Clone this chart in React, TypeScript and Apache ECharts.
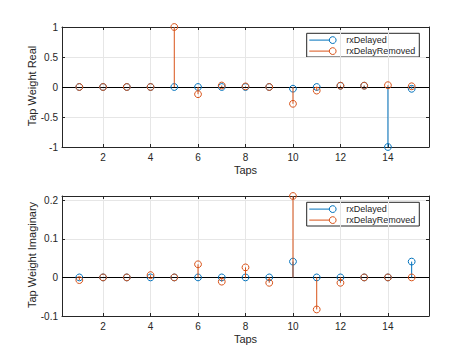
import React, { useEffect, useRef } from "react";
import * as echarts from "echarts";

const taps = [1, 2, 3, 4, 5, 6, 7, 8, 9, 10, 11, 12, 13, 14, 15];
const realDelayed = [0, 0, 0, 0, 0, 0, 0, 0, 0, -0.028, 0, 0.02, 0.022, -1, -0.03];
const realRemoved = [0, 0, 0, 0, 1, -0.12, 0.025, 0.01, 0, -0.28, -0.06, 0.022, 0.022, 0.03, 0.012];
const imagDelayed = [0, 0, 0, 0, 0, 0, 0, 0, 0, 0.041, 0, 0, 0, 0, 0.041];
const imagRemoved = [-0.007, 0, 0, 0.006, 0, 0.034, -0.011, 0.026, -0.014, 0.211, -0.083, -0.014, 0, 0, 0];

const xTicks = [2, 4, 6, 8, 10, 12, 14];
const yTicksReal = [-1, -0.5, 0, 0.5, 1];
const yTicksImag = [-0.1, 0, 0.1, 0.2];
const X_MIN = 0.27;
const X_MAX = 15.73;
const REAL_MIN = -1;
const REAL_MAX = 1;
const IMAG_MIN = -0.1;
const IMAG_MAX = 0.211;

const BLUE = "#0072BD";
const ORANGE = "#D95319";
const AX = "#262626";
const FONT = "Liberation Sans, Arial, sans-serif";

function stem(name: string, vals: number[], color: string, xi: number, yi: number, baseline: boolean) {
  const s: any = {
    type: "custom",
    name,
    xAxisIndex: xi,
    yAxisIndex: yi,
    data: taps.map((t, i) => [t, vals[i]]),
    encode: { x: 0, y: 1 },
    renderItem: (params: any, api: any) => {
      const x = api.value(0);
      const y = api.value(1);
      const p = api.coord([x, y]);
      const b = api.coord([x, 0]);
      return {
        type: "group",
        children: [
          {
            type: "line",
            shape: { x1: b[0], y1: b[1], x2: p[0], y2: p[1] },
            style: { stroke: color, lineWidth: 1 },
          },
          {
            type: "circle",
            shape: { cx: p[0], cy: p[1], r: 3.4 },
            style: { fill: "none", stroke: color, lineWidth: 1 },
          },
        ],
      };
    },
  };
  if (baseline) {
    s.markLine = {
      silent: true,
      symbol: "none",
      label: { show: false },
      lineStyle: { color: "#000", width: 1, type: "solid" },
      data: [{ yAxis: 0 }],
      z: 1,
    };
  }
  return s;
}

function xAxes(gridIndex: number) {
  return [
    {
      type: "value",
      gridIndex,
      position: "bottom",
      min: X_MIN,
      max: X_MAX,
      axisLine: { show: true, onZero: false, lineStyle: { color: AX, width: 1 } },
      axisTick: { show: true, inside: true, length: 3, customValues: xTicks, lineStyle: { color: AX } },
      axisLabel: { show: true, customValues: xTicks, color: AX, fontSize: 10, fontFamily: FONT, margin: 5 },
      splitLine: { show: true, lineStyle: { color: "#e6e6e6", width: 1 } },
      name: "Taps",
      nameLocation: "middle",
      nameGap: 17,
      nameTextStyle: { color: AX, fontSize: 11, fontFamily: FONT },
    },
    {
      type: "value",
      gridIndex,
      position: "top",
      min: X_MIN,
      max: X_MAX,
      axisLine: { show: true, onZero: false, lineStyle: { color: AX, width: 1 } },
      axisTick: { show: true, inside: true, length: 3, customValues: xTicks, lineStyle: { color: AX } },
      axisLabel: { show: false },
      splitLine: { show: false },
    },
  ];
}

function yAxes(gridIndex: number, min: number, max: number, ticks: number[]) {
  return [
    {
      type: "value",
      gridIndex,
      position: "left",
      min,
      max,
      axisLine: { show: true, onZero: false, lineStyle: { color: AX, width: 1 } },
      axisTick: { show: true, inside: true, length: 3, customValues: ticks, lineStyle: { color: AX } },
      axisLabel: { show: true, customValues: ticks, color: AX, fontSize: 10, fontFamily: FONT, margin: 4 },
      splitLine: { show: true, lineStyle: { color: "#e6e6e6", width: 1 } },
    },
    {
      type: "value",
      gridIndex,
      position: "right",
      min,
      max,
      axisLine: { show: true, onZero: false, lineStyle: { color: AX, width: 1 } },
      axisTick: { show: true, inside: true, length: 3, customValues: ticks, lineStyle: { color: AX } },
      axisLabel: { show: false },
      splitLine: { show: false },
    },
  ];
}

function legend(left: number, top: number) {
  const w = 112.6;
  const h = 23.7;
  const rows = [
    { name: "rxDelayed", color: BLUE },
    { name: "rxDelayRemoved", color: ORANGE },
  ];
  const children: any[] = [
    {
      type: "rect",
      shape: { x: left, y: top, width: w, height: h },
      style: { fill: "#fff", stroke: AX, lineWidth: 1 },
    },
  ];
  rows.forEach((r, i) => {
    const cy = top + 6.8 + i * 11;
    children.push({
      type: "line",
      shape: { x1: left + 2.6, y1: cy, x2: left + 26, y2: cy },
      style: { stroke: r.color, lineWidth: 1 },
    });
    children.push({
      type: "circle",
      shape: { cx: left + 26, cy, r: 3.4 },
      style: { fill: "#fff", stroke: r.color, lineWidth: 1 },
    });
    children.push({
      type: "text",
      x: left + 39.6,
      y: cy,
      style: { text: r.name, fill: AX, font: `9px ${FONT}`, verticalAlign: "middle", align: "left" },
    });
  });
  return { type: "group", z: 100, children };
}

export default function App() {
  const ref = useRef<HTMLDivElement>(null);
  useEffect(() => {
    if (!ref.current) return;
    const chart = echarts.init(ref.current, null, { renderer: "svg" });
    const option: any = {
      animation: false,
      backgroundColor: "#fff",
      grid: [
        { left: 62, top: 27, width: 367, height: 120 },
        { left: 62, top: 196, width: 367, height: 120 },
      ],
      xAxis: [...xAxes(0), ...xAxes(1)],
      yAxis: [...yAxes(0, REAL_MIN, REAL_MAX, yTicksReal), ...yAxes(1, IMAG_MIN, IMAG_MAX, yTicksImag)],
      series: [
        stem("rxDelayed", realDelayed, BLUE, 0, 0, true),
        stem("rxDelayRemoved", realRemoved, ORANGE, 0, 0, false),
        stem("rxDelayed", imagDelayed, BLUE, 2, 2, true),
        stem("rxDelayRemoved", imagRemoved, ORANGE, 2, 2, false),
      ],
      graphic: [
        {
          type: "text",
          x: 32,
          y: 86,
          rotation: Math.PI / 2,
          style: { text: "Tap Weight Real", fill: AX, font: `11px ${FONT}`, align: "center", verticalAlign: "middle" },
        },
        {
          type: "text",
          x: 32,
          y: 255,
          rotation: Math.PI / 2,
          style: { text: "Tap Weight Imaginary", fill: AX, font: `11px ${FONT}`, align: "center", verticalAlign: "middle" },
        },
        legend(306.7, 33.3),
        legend(306.7, 202.3),
      ],
    };
    chart.setOption(option);
    return () => chart.dispose();
  }, []);
  return (
    <div
      ref={ref}
      style={{ position: "absolute", left: 0, top: 0, width: 474, height: 355, background: "#fff" }}
    />
  );
}
